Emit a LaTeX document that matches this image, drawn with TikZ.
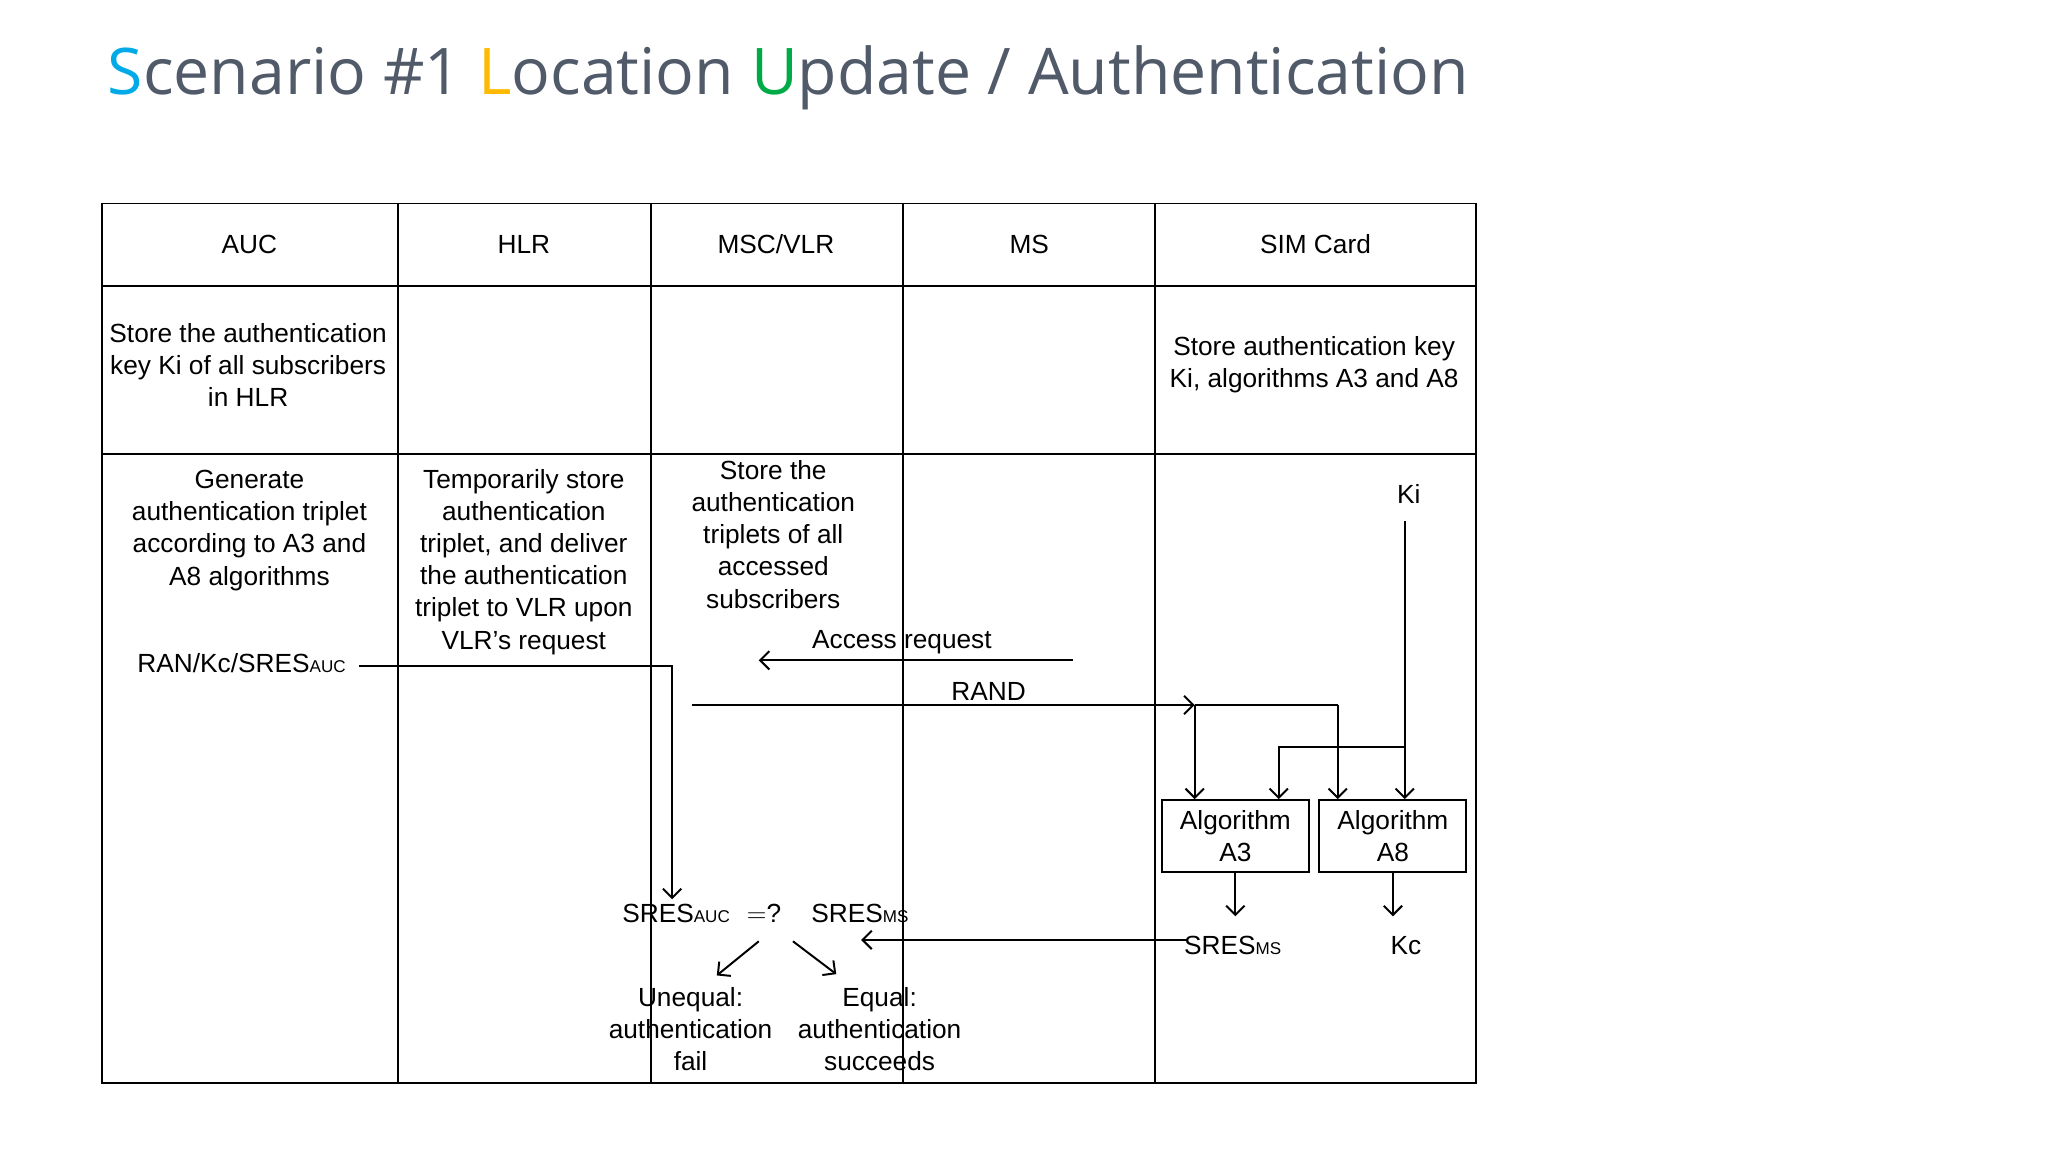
\documentclass[tikz,border=0pt]{standalone}
\usepackage{fontspec}
\setmainfont{Liberation Sans}
\newfontfamily\titlefont{Open Sans}
\usetikzlibrary{arrows.meta}
\definecolor{tblue}{RGB}{0,170,230}
\definecolor{torange}{RGB}{255,185,0}
\definecolor{tgreen}{RGB}{0,170,70}
\definecolor{tgray}{RGB}{80,90,105}
\newcommand{\smsub}[1]{{\fontsize{13}{13}\selectfont #1}}
\tikzset{
  txt/.style={font=\fontsize{20}{24.5}\selectfont, align=center, inner sep=0pt},
  ln/.style={line width=1.5pt},
  arr/.style={line width=1.5pt, -{Straight Barb[length=7pt,width=14pt]}},
  algbox/.style={draw, line width=1.5pt, txt, minimum width=112pt, minimum height=55pt}
}
\begin{document}
\begin{tikzpicture}[x=1pt,y=-1pt]
\useasboundingbox (0,0) rectangle (1560,877.5);
\node[anchor=base west, inner sep=0pt, font=\titlefont\fontsize{49}{49}\selectfont, text=tgray] (title) at (82,72)
 {\textcolor{tblue}{S}cenario \#1 \textcolor{torange}{L}ocation \textcolor{tgreen}{U}pdate / Authentication};
% table
\draw[ln] (78,155) rectangle (1124,825);
\foreach \x in {303,496,688,880} \draw[ln] (\x,155) -- (\x,825);
\draw[ln] (78,218) -- (1124,218);
\draw[ln] (78,346) -- (1124,346);
\node[txt] (hauc) at (190,186) {AUC};
\node[txt] (hhlr) at (399,186) {HLR};
\node[txt] (hmsc) at (591,186) {MSC/VLR};
\node[txt] (hms) at (784,186) {MS};
\node[txt] (hsim) at (1002,186) {SIM Card};
\node[txt] (auc2) at (189,278) {Store the authentication\\key Ki of all subscribers\\in HLR};
\node[txt] (sim2) at (1001,278) {Store authentication key\\Ki, algorithms A3 and A8};
\node[txt] (auc3) at (190,404) {Generate\\authentication triplet\\according to A3 and\\A8 algorithms};
\node[txt] (hlr3) at (399,428) {Temporarily store\\authentication\\triplet, and deliver\\the authentication\\triplet to VLR upon\\VLR's request};
\node[txt] (msc3) at (589,407) {Store the\\authentication\\triplets of all\\accessed\\subscribers};
\node[txt] (ran) at (184,505) {RAN/Kc/SRES\smsub{AUC}};
\node[txt] (acc) at (687,489) {Access request};
\node[txt] (rand) at (753,527) {RAND};
\node[txt] (ki) at (1073,376) {Ki};
\node[algbox] (a3) at (941,637) {Algorithm\\A3};
\node[algbox] (a8) at (1061,637) {Algorithm\\A8};
\node[txt] (sresms) at (939,720) {SRES\smsub{MS}};
\node[txt] (kc) at (1071,720) {Kc};
\node[txt] (sresauc) at (515,696) {SRES\smsub{AUC}};
\node[txt] (eq) at (582,696) {$=$?};
\node[txt] (sresms2) at (655,696) {SRES\smsub{MS}};
\node[txt] (uneq) at (526,784) {Unequal:\\authentication\\fail};
\node[txt] (equal) at (670,784) {Equal:\\authentication\\succeeds};
\coordinate (accs) at (817,503);
\coordinate (acce) at (578,503);
\coordinate (rs) at (527,537);
\coordinate (rj) at (910,537);
\coordinate (rk) at (1019,537);
\coordinate (kj) at (1070,569);
\coordinate (kl) at (974,569);
% connectors
\draw[arr] (ran.east) ++(10,2) -- (512,507) -- (512,685);
\draw[arr] (accs) -- (acce);
\draw[arr] (rs) -- (rj);
\draw[ln] (rj) -- (rk);
\draw[arr] (rj) -- (rj |- a3.north);
\draw[arr] (rk) -- (rk |- a8.north);
\draw[arr] (1070,397) -- (kj) -- (kj |- a8.north);
\draw[arr] (kj) -- (kl) -- (kl |- a3.north);
\draw[arr] (a3.south) -- (941,698);
\draw[arr] (a8.south) -- (1061,698);
\draw[arr] (904,716) -- (656,716);
\draw[arr] (578,717) -- (546,743);
\draw[arr] (604,717) -- (637,742);
\end{tikzpicture}
\end{document}
